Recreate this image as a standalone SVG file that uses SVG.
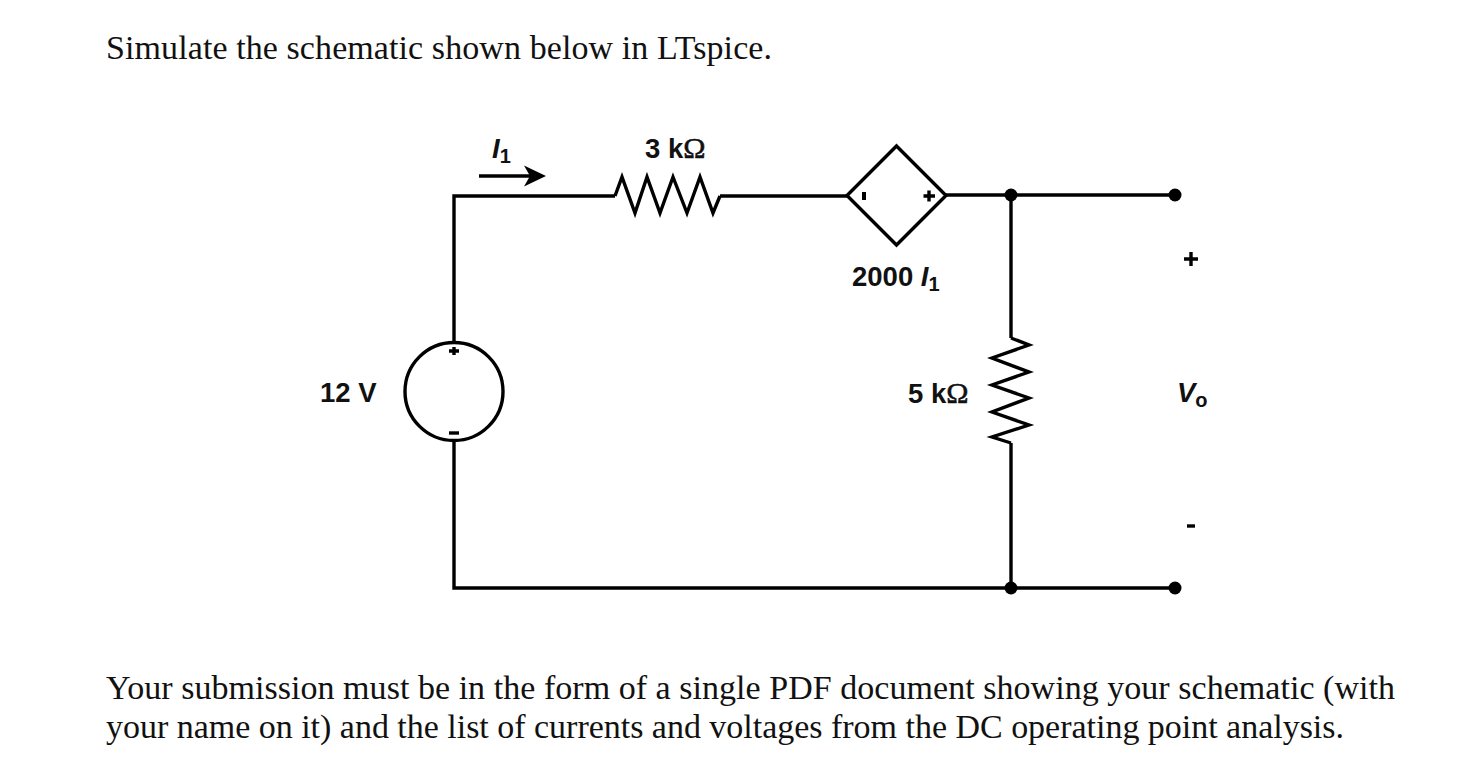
<svg xmlns="http://www.w3.org/2000/svg" width="1482" height="757" viewBox="0 0 1482 757">
<style>
.w{fill:none;stroke:#000;stroke-width:3.400;stroke-linejoin:miter}
.p{font-family:"Liberation Serif","Times New Roman",serif;font-size:34px;fill:#111}
.l{font-family:"Liberation Sans",Arial,sans-serif;font-size:27.500px;font-weight:bold;fill:#111}
.s{font-size:20px}
.o{font-family:"Liberation Serif",serif;font-size:30px;font-weight:normal;stroke:#111;stroke-width:.5}
.d{fill:#000}
</style>
<rect width="1482" height="757" fill="#fff"/>
<text class="p" x="106" y="59" textLength="666">Simulate the schematic shown below in LTspice.</text>
<text class="p" x="106" y="699" textLength="1289">Your submission must be in the form of a single PDF document showing your schematic (with</text>
<text class="p" x="106" y="738" textLength="1238">your name on it) and the list of currents and voltages from the DC operating point analysis.</text>
<g id="connectors">
<path class="w" d="M454 343V196H615"/>
<path class="w" d="M720 196H847"/>
<path class="w" d="M946 195H1175"/>
<path class="w" d="M1011 195V338"/>
<path class="w" d="M1011 443V588"/>
<path class="w" d="M454 440V588H1175"/>
</g>
<g id="current-arrow">
<path class="w" d="M479 176H535"/>
<path class="d" d="M546 176L524 165.500L530 176L524 186.500Z"/>
<text class="l" x="492" y="158" font-style="italic">I<tspan class="s" dy="5" font-style="normal">1</tspan></text>
</g>
<g id="r1">
<path class="w" d="M615 196L622 177L635 213L647 177L660 213L673 177L687 213L700 177L713 213L720 196"/>
<text class="l" x="645" y="158">3 k<tspan class="o">Ω</tspan></text>
</g>
<g id="dep-source">
<path class="w" d="M896.500 146L946 195.500L896.500 245L847 195.500Z"/>
<rect class="d" x="862" y="192" width="4" height="8"/>
<path class="w" d="M923.500 196H935M929 190.500V201.500"/>
<text class="l" x="852" y="286">2000 <tspan font-style="italic">I</tspan><tspan class="s" dy="5">1</tspan></text>
</g>
<g id="v1">
<circle class="w" cx="454" cy="391.500" r="49"/>
<path class="w" d="M449 351H459M454 347V355"/>
<path class="w" d="M449 433H459"/>
<text class="l" x="320" y="402">12 V</text>
</g>
<g id="r2">
<path class="w" d="M1011 338L1029 345L992 358L1029 372L992 385L1029 398L992 412L1029 425L992 437L1011 443"/>
<text class="l" x="908" y="403">5 k<tspan class="o">Ω</tspan></text>
</g>
<g id="node-a"><circle class="d" cx="1011" cy="195" r="6.500"/></g>
<g id="node-b"><circle class="d" cx="1011" cy="588" r="6.500"/></g>
<g id="term-top"><circle class="d" cx="1175" cy="195" r="6.500"/></g>
<g id="term-bottom"><circle class="d" cx="1175" cy="588" r="6.500"/></g>
<g id="vo">
<path class="w" d="M1184 259H1198M1191 252V266"/>
<text class="l" x="1177" y="402" font-style="italic">V<tspan class="s" dy="5" font-style="normal">o</tspan></text>
<path class="w" d="M1187 526H1195"/>
</g>
</svg>
